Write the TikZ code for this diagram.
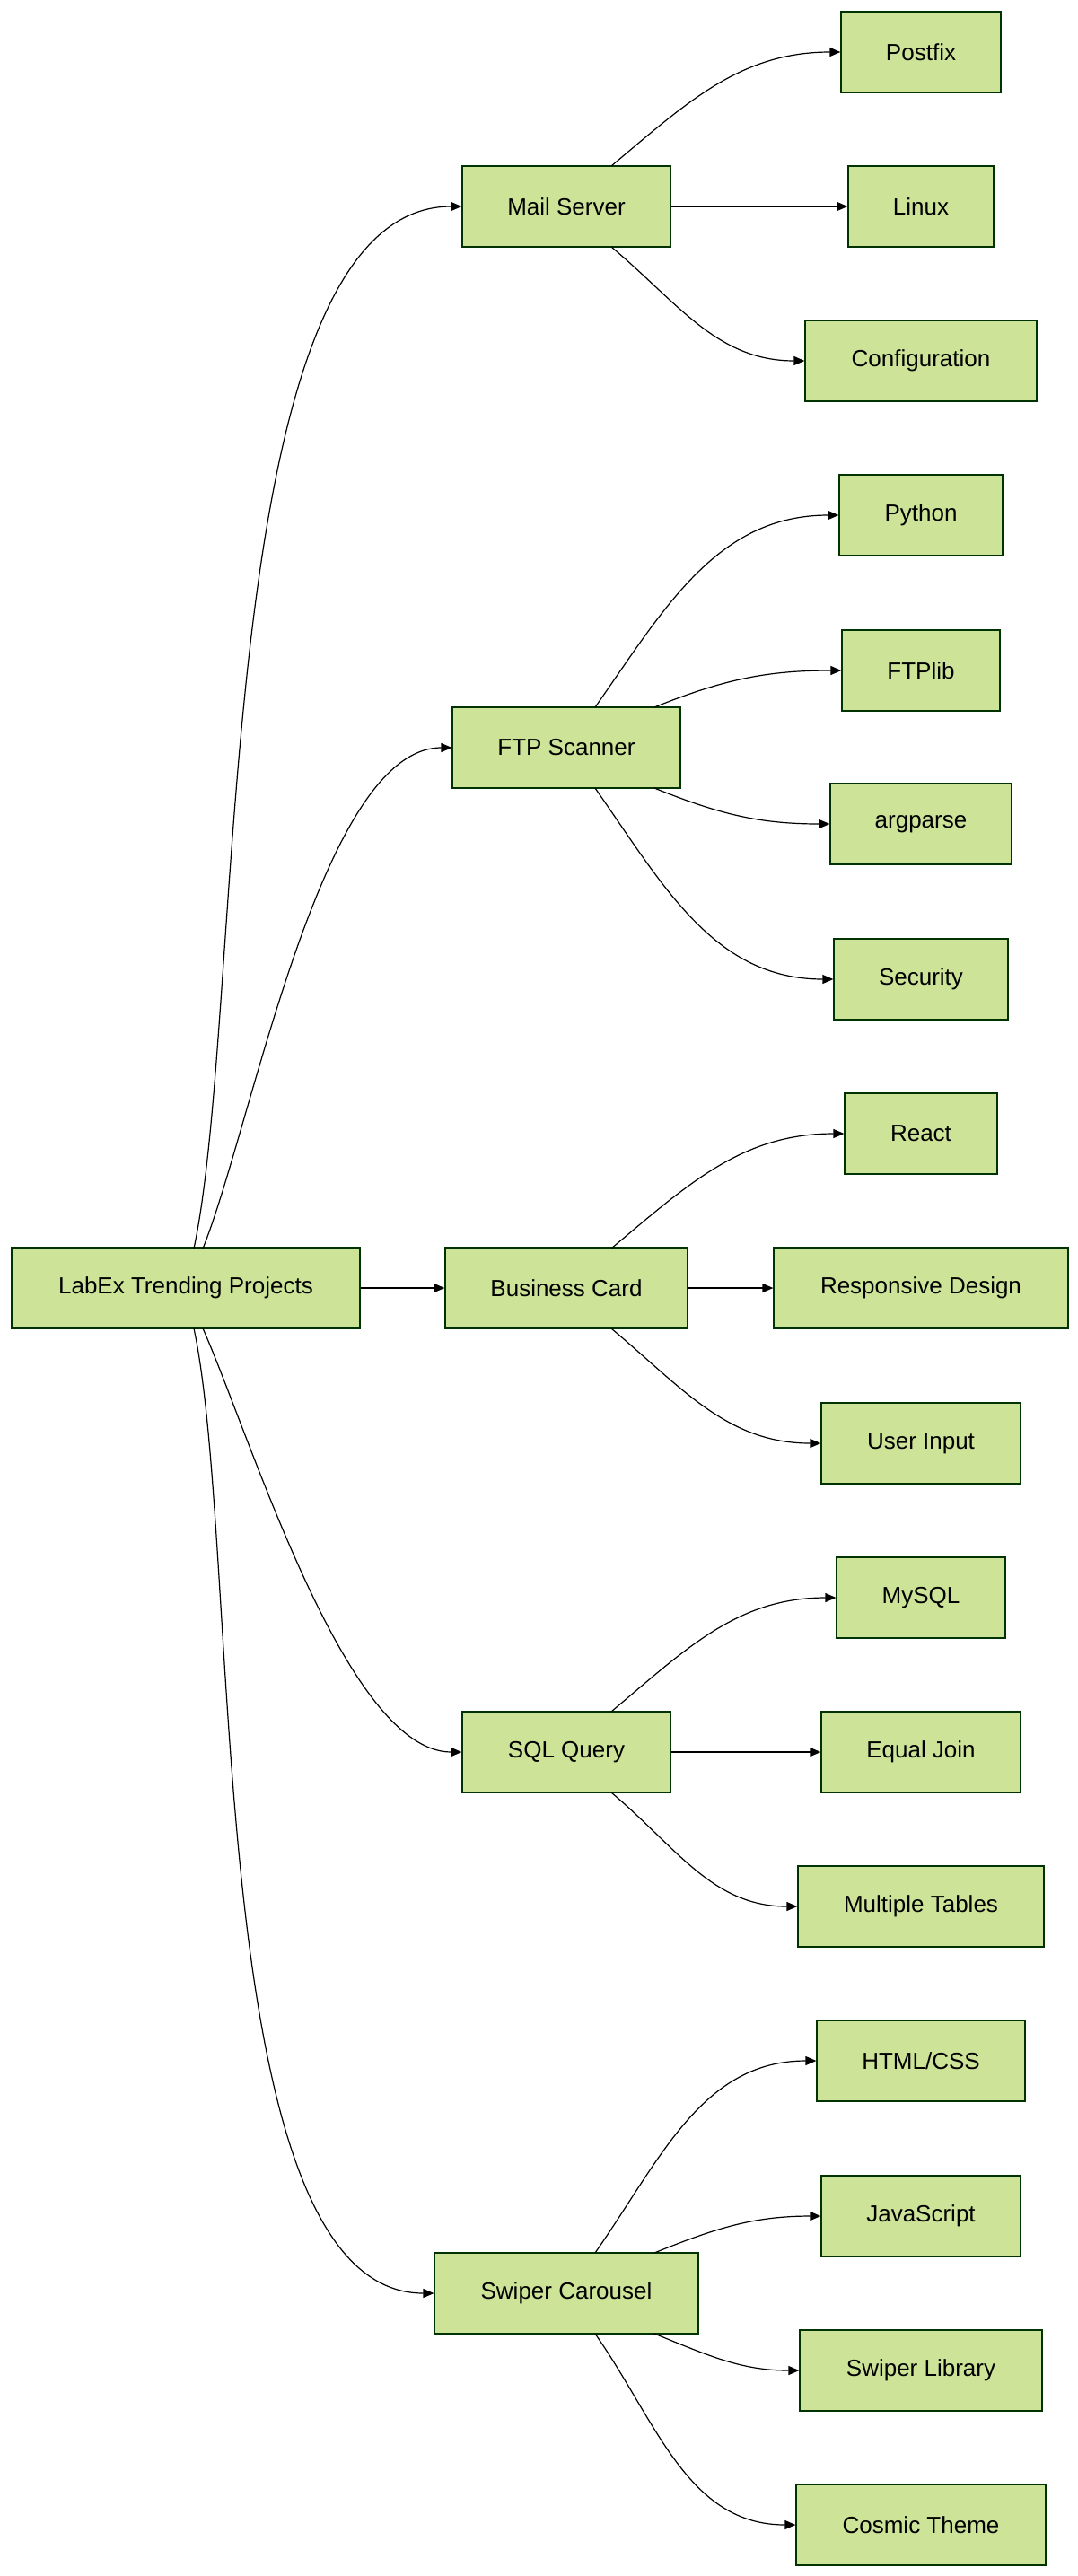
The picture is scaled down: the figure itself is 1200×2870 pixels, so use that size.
\documentclass[tikz,border=0pt]{standalone}
\usepackage{fontspec}
\setmainfont{Liberation Sans}
\usetikzlibrary{arrows.meta}
\begin{document}
\begin{tikzpicture}[x=0.5pt,y=-0.5pt,
  box/.style={draw=black!80!green,line width=0.6pt,fill={rgb,255:red,205;green,228;blue,152},minimum height=45pt,inner sep=0pt,font=\fontsize{13}{15}\selectfont},
  e/.style={draw,line width=0.6pt,-{Triangle[length=6pt,width=5pt]}}]
\useasboundingbox (0,0) rectangle (1200,2870);
\node[box,minimum width=194pt] (root) at (207,1435) {LabEx Trending Projects};
\node[box,minimum width=116pt] (mail) at (631,230) {Mail Server};
\node[box,minimum width=127pt] (ftp) at (631,833) {FTP Scanner};
\node[box,minimum width=135pt] (bc) at (631,1435) {Business Card};
\node[box,minimum width=116pt] (sql) at (631,1952) {SQL Query};
\node[box,minimum width=147pt] (sw) at (631,2555) {Swiper Carousel};
\node[box,minimum width=89pt] (postfix) at (1026,58) {Postfix};
\node[box,minimum width=81pt] (linux) at (1026,230) {Linux};
\node[box,minimum width=129pt] (conf) at (1026,402) {Configuration};
\node[box,minimum width=91pt] (python) at (1026,574) {Python};
\node[box,minimum width=88pt] (ftplib) at (1026,747) {FTPlib};
\node[box,minimum width=101pt] (argp) at (1026,918) {argparse};
\node[box,minimum width=97pt] (sec) at (1026,1091) {Security};
\node[box,minimum width=85pt] (react) at (1026,1263) {React};
\node[box,minimum width=164pt] (resp) at (1026,1435) {Responsive Design};
\node[box,minimum width=111pt] (ui) at (1026,1608) {User Input};
\node[box,minimum width=94pt] (mysql) at (1026,1780) {MySQL};
\node[box,minimum width=111pt] (ej) at (1026,1952) {Equal Join};
\node[box,minimum width=137pt] (mt) at (1026,2124) {Multiple Tables};
\node[box,minimum width=116pt] (html) at (1026,2296) {HTML/CSS};
\node[box,minimum width=111pt] (js) at (1026,2469) {JavaScript};
\node[box,minimum width=135pt] (swl) at (1026,2641) {Swiper Library};
\node[box,minimum width=139pt] (cos) at (1026,2813) {Cosmic Theme};
\coordinate (rt1) at (216,1391); \coordinate (rt2) at (226,1391);
\coordinate (rb1) at (216,1480); \coordinate (rb2) at (226,1480);
\draw[e] (rt1) to[out=78,in=180,looseness=0.6] (mail.west);
\draw[e] (rt2) to[out=68,in=180,looseness=0.6] (ftp.west);
\draw[e] (root.east) -- (bc.west);
\draw[e] (rb2) to[out=-66,in=180,looseness=0.6] (sql.west);
\draw[e] (rb1) to[out=-78,in=180,looseness=0.6] (sw.west);
% mail
\coordinate (m1) at (681,185); \coordinate (m2) at (681,275);
\draw[e] (m1) to[out=40,in=180] (postfix.west);
\draw[e] (mail.east) -- (linux.west);
\draw[e] (m2) to[out=-40,in=180] (conf.west);
% ftp
\coordinate (f1) at (663,788); \coordinate (f2) at (729,788);
\coordinate (f3) at (729,878); \coordinate (f4) at (663,878);
\draw[e] (f1) to[out=55,in=180] (python.west);
\draw[e] (f2) to[out=22,in=180] (ftplib.west);
\draw[e] (f3) to[out=-22,in=180] (argp.west);
\draw[e] (f4) to[out=-55,in=180] (sec.west);
% bc
\coordinate (b1) at (681,1391); \coordinate (b2) at (681,1480);
\draw[e] (b1) to[out=40,in=180] (react.west);
\draw[e] (bc.east) -- (resp.west);
\draw[e] (b2) to[out=-40,in=180] (ui.west);
% sql
\coordinate (s1) at (681,1907); \coordinate (s2) at (681,1997);
\draw[e] (s1) to[out=40,in=180] (mysql.west);
\draw[e] (sql.east) -- (ej.west);
\draw[e] (s2) to[out=-40,in=180] (mt.west);
% swiper
\coordinate (w1) at (663,2510); \coordinate (w2) at (729,2510);
\coordinate (w3) at (729,2600); \coordinate (w4) at (663,2600);
\draw[e] (w1) to[out=55,in=180] (html.west);
\draw[e] (w2) to[out=22,in=180] (js.west);
\draw[e] (w3) to[out=-22,in=180] (swl.west);
\draw[e] (w4) to[out=-55,in=180] (cos.west);
\end{tikzpicture}
\end{document}
